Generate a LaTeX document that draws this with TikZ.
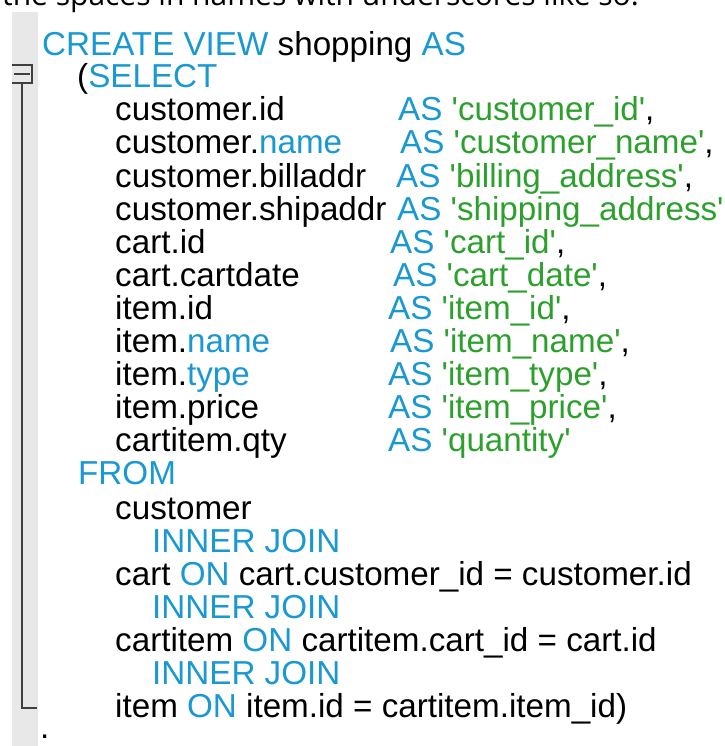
\documentclass[tikz,border=0pt]{standalone}
\usepackage{fontspec}
\setmainfont{Liberation Sans}
\newfontfamily\headfont{Open Sans}
\definecolor{kw}{HTML}{1A98D2}
\definecolor{str}{HTML}{2CA02C}
\definecolor{gut}{HTML}{E8E8E8}
\newcommand{\K}[1]{\textcolor{kw}{#1}}
\newcommand{\Sg}[1]{\textcolor{str}{\textquotesingle #1\textquotesingle}}
\begin{document}
\begin{tikzpicture}[x=1pt,y=-1pt,
  code/.style={anchor=base west,inner sep=0pt,font=\fontsize{33.2}{33.2}\selectfont}]
\useasboundingbox (0,0) rectangle (724,746);
\clip (0,0) rectangle (724,746);
\node[anchor=base west,inner sep=0pt,font=\headfont\fontsize{30}{30}\selectfont] (head) at (2,6) {the spaces in names with underscores like so.};
\fill[gut] (12,12) rectangle (38,746);
\draw[line width=1.3pt,black!75] (12,65) -- (32,65) -- (32,83) -- (12,83);
\draw[line width=1.3pt,black!75] (14,74) -- (30,74);
\draw[line width=1.3pt,black!75] (22,83) -- (22,708) -- (37,708);
\node[code] (l1) at (42,56) {\K{CREATE VIEW} shopping \K{AS}};
\node[code] (l2) at (77,88) {(\K{SELECT}};
\foreach \n/\y/\a/\ax/\b in {
 3/121/customer.id/398/customer\_id,
 4/154/customer.\K{name}/400/customer\_name,
 5/187/customer.billaddr/396/billing\_address,
 6/220/customer.shipaddr/397/shipping\_address,
 7/253/cart.id/390/cart\_id,
 8/286/cart.cartdate/393/cart\_date,
 9/319/item.id/388/item\_id,
 10/352/item.\K{name}/390/item\_name,
 11/385/item.\K{type}/388/item\_type,
 12/418/item.price/388/item\_price}
 {\node[code] (a\n) at (115,\y) {\a};
  \node[code] (b\n) at (\ax,\y) {\K{AS} \Sg{\b},};}
\node[code] (a13) at (115,451) {cartitem.qty};
\node[code] (b13) at (388,451) {\K{AS} \Sg{quantity}};
\node[code] (l14) at (78,484) {\K{FROM}};
\node[code] (l15) at (115,519) {customer};
\node[code] (l16) at (152,552) {\K{INNER JOIN}};
\node[code] (l17) at (115,585) {cart \K{ON} cart.customer\_id = customer.id};
\node[code] (l18) at (152,618) {\K{INNER JOIN}};
\node[code] (l19) at (115,651) {cartitem \K{ON} cartitem.cart\_id = cart.id};
\node[code] (l20) at (152,684) {\K{INNER JOIN}};
\node[code] (l21) at (115,717) {item \K{ON} item.id = cartitem.item\_id)};
\node[code] (dot) at (40,738) {.};
\end{tikzpicture}
\end{document}
